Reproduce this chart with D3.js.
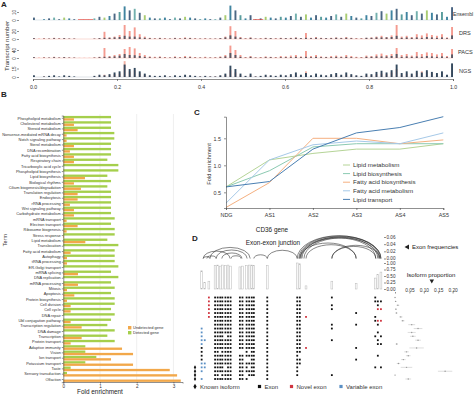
<!DOCTYPE html>
<html>
<head>
<meta charset="utf-8">
<script src="https://cdn.jsdelivr.net/npm/d3@7"></script>
<style>
  body { margin: 0; background: #fff; }
  svg { display: block; font-family: "Liberation Sans", Arial, sans-serif; }
  .axis text { fill: #333; }
  .axis path, .axis line { stroke: #444; stroke-width: 0.6; }
</style>
</head>
<body>
<svg id="fig" width="474" height="395"></svg>
<script>
// ---------- panel A : transcript number along the genome ----------
const ensembl = [3,0,1,2,3,1,3,2,1,0, 0,0,2,4,3,5,8,10,17,12, 14,9,6,3,2,2,3,1,3,2,
  4,3,2,1,2,1,1,3,6,18, 12,6,2,6,1,2,4,3,2,4, 3,5,8,4,7,3,6,4,3,5,
  7,4,8,5,3,2,6,5,9,11, 8,12,14,7,10,6,11,8,12,9, 7,10,4,16]
const ensemblRed = [0,0,0,0,0,0,0,0,0,0.8, 0.8,0.8,0,0,0,0,0,0,0,0, 0,0,0,0,0,0,0,0,0,0,
  0,0,0,0,0,0,0,0,0,0, 0,0,0,0,0.8,0.8,0,0,0,0, 0,0,0,0,0,0,0,0,0,0,
  0,0,0,0,0,0,0,0,0,0, 0,0,0,0,0,0,0,0,0,0, 0,0,0,0]
const drsRed = [2,1,2,1,3,2,2,1,1,0, 0,0,1,2,18,4,6,10,35,20, 29,12,6,3,2,3,2,1,3,2,
  4,3,2,1,2,1,1,2,6,32, 20,5,2,4,1,2,3,2,2,3, 2,3,4,2,15,3,5,3,2,3,
  4,3,5,3,2,2,3,4,6,8, 5,9,35,6,8,5,12,9,14,10, 8,12,4,30]
const drsDark = [2,0,1,1,2,1,2,1,1,0, 0,0,1,2,3,3,4,5,8,6, 6,4,3,2,1,2,1,1,2,1,
  2,2,1,1,1,1,1,2,4,9, 6,3,1,3,1,1,2,2,1,2, 2,2,3,2,3,2,3,2,2,2,
  3,2,3,2,1,1,3,3,4,4, 4,5,8,3,4,3,4,3,5,4, 3,4,2,9]
const pacsRed = [3,2,4,2,6,3,5,3,2,1, 1,1,3,6,50,10,15,20,45,55, 48,25,15,8,6,8,5,3,8,5,
  10,8,5,3,6,3,4,8,15,62, 40,15,5,10,3,5,8,6,5,10, 8,12,15,8,35,10,15,8,6,10,
  12,8,15,10,6,5,12,10,18,22, 15,20,50,15,20,12,30,20,28,25, 18,25,10,45]
const pacsDark = [4,0,2,2,4,2,4,2,2,0, 0,0,2,4,6,6,8,12,20,15, 14,10,6,4,2,4,2,2,4,2,
  4,4,2,2,2,2,2,4,8,25, 15,6,2,6,2,2,4,4,2,4, 4,4,6,4,6,4,6,4,4,4,
  6,4,6,4,2,2,6,6,8,8, 8,10,20,6,8,6,8,6,10,8, 6,8,4,18]
const ngsRed = [1,0,1,1,1,0,1,1,0,0, 0,0,1,2,4,3,5,6,28,10, 12,6,4,2,1,1,2,1,2,1,
  2,2,1,1,1,1,1,2,4,12, 8,3,1,3,1,1,2,2,1,2, 2,3,4,2,10,2,3,2,2,3,
  4,2,4,3,2,1,3,3,5,6, 5,8,14,4,6,4,8,10,9,7, 5,8,2,12]
const ngsDark = [3,0,1,2,3,1,3,2,1,0, 0,0,2,4,3,5,8,10,22,14, 16,10,6,3,2,2,3,1,3,2,
  4,3,2,1,2,1,1,3,6,20, 14,6,2,6,1,2,4,3,2,4, 3,5,8,4,7,3,6,4,3,5,
  7,4,8,5,3,2,6,5,9,11, 8,12,22,7,10,6,11,8,12,9, 7,10,4,24]
const genomeTicks = [0, 0.2, 0.4, 0.6, 0.8, 1.0]

// ---------- panel B : fold enrichment of terms ----------
const terms = ['Phospholipid metabolism','Cholesterol metabolism','Steroid metabolism',
  'Nonsense-mediated mRNA decay','Notch signaling pathway','Sterol metabolism','DNA recombination',
  'Fatty acid biosynthesis','Respiratory chain','Tricarboxylic acid cycle','Phospholipid biosynthesis',
  'Lipid biosynthesis','Biological rhythms','Cilium biogenesis/degradation','Translation regulation',
  'Endocytosis','rRNA processing','Wnt signaling pathway','Carbohydrate metabolism','mRNA transport',
  'Electron transport','Ribosome biogenesis','Stress response','Lipid metabolism','Translocation',
  'Fatty acid metabolism','Autophagy','tRNA processing','ER-Golgi transport','mRNA splicing',
  'DNA replication','mRNA processing','Mitosis','Apoptosis','Protein biosynthesis','Cell division',
  'Cell cycle','DNA repair','Ubl conjugation pathway','Transcription regulation','DNA damage',
  'Transcription','Protein transport','Adaptive immunity','Vision','Ion transport',
  'Potassium transport','Taste','Sensory transduction','Olfaction']
const detected = [1.3,1.3,1.3,1.39,1.39,1.3,1.3,1.3,1.2,1.5, 1.5,1.2,1.3,1.2,1.3,1.3,1.3,1.3,1.3,1.4,
  1.3,1.4,1.4,1.2,1.5,1.4,1.4,1.4,1.5,1.3, 1.5,1.3,1.4,1.3,1.4,1.4,1.3,1.4,1.3,1.2,
  1.4,1.2,1.4,0.6,0.6,0.9,0.6,0.2,0.1,0.0]
const undetected = [0.29,0.29,0.39,0.09,0.09,0.29,0.18,0.29,0.29,0.0, 0.0,0.59,0.29,0.48,0.39,0.39,0.18,0.29,0.29,0.09,
  0.39,0.09,0.02,0.6,0.0,0.2,0.1,0.1,0.0,0.4, 0.0,0.4,0.1,0.3,0.1,0.2,0.2,0.0,0.2,0.5,
  0.0,0.5,0.2,1.6,1.9,1.3,1.9,2.9,3.1,3.2]
const foldTicks = [0, 1, 2, 3]

// ---------- panel C : enrichment across stages ----------
const stages = ['NDG','AS1','AS2','AS3','AS4','AS5']
const lipidMetabolism = [0.6, 1.1, 1.22, 1.3, 1.3, 1.4]
const lipidBiosynthesis = [0.6, 0.9, 1.34, 1.4, 1.4, 1.4]
const fattyAcidBiosynthesis = [0.22, 0.68, 1.5, 1.5, 1.4, 1.47]
const fattyAcidMetabolism = [0.3, 1.1, 1.38, 1.45, 1.4, 1.6]
const lipidTransport = [0.6, 0.7, 1.3, 1.6, 1.7, 1.9]
const enrichTicks = [0.5, 1.0, 1.5]

// ---------- panel D : CD36 isoforms ----------
// exon positions (kb along the gene) and exon frequencies
const exonPos = [0.9,1.5,2.3,3.5,4.0,4.5,4.9,5.5,6.0,6.5,8.3,8.8,9.6,10.1,10.6,11.0,13.6,19.4,19.9,21.1,26.1,30.8,34.5,35.0,35.6]
const exonFreq = [0.7,0.25,0.3,0.9,0.92,0.88,0.92,0.9,0.92,0.88,0.85,0.88,0.9,0.92,0.92,0.9,0.9,1.0,0.97,0.12,0.3,0.22,0.42,0.55,0.65]
const junctions = [[1.2,2.5],[1.9,3.7],[1.2,6.4],[2.5,10.3],[3.7,9.7],[4.8,8.7],[6.6,8.5],[11.0,13.6],[13.6,19.4],
  [19.4,35.4],[19.7,35.6],[19.9,35.0],[20.1,34.6],[20.3,35.6],[20.7,35.2],[19.9,30.8],[26.1,35.4],[21.1,30.8],[26.1,34.6]]
const freqTicks = [0, 0.02, 0.04, 0.06]
const barTicks = [0, 0.25, 0.5, 0.75, 1]
// x = exon, n = novel exon, v = variable exon
const isoforms = [
  '..n xxxxxxx xx xxxx x xx. x . x..',
  '..n xxxxxxx xx xxxx x xx. . . xxx',
  '..n xxxxxxx xx xxxx x xx. x . .x.',
  '..n xxxxxxx xx xxxx x xx. x . .nn',
  '..n xxxxxxx xx xxxx x xx. . x ...',
  '..n xxxxxxx xx xxxx x xxn . . x..',
  '... xxxxxxx xx xxxx x xx. . . xnn',
  '... xxxxxxx xx xxxx x xx. x x .x.',
  'v.. xxxxxxx xx xxxx x xx. x . ...',
  'v.. xxxxxxx xx xxxx x xx. . . .x.',
  'v.. xxxx.xx xx xxxx x xx. . . x.x',
  'vv. xxxxxxx xx xxxx x xx. x . .x.',
  'v.. xxxxxxx xx xxxx x xx. . . .xx',
  'x.. xxxxxxx xx xxxx x xxn . x ...',
  'x.. xx.xxxx .. x.xx x xx. . . ...',
  'x.. xxxxxxx xx xxxx x x.. . . .x.',
  'x.. xxxxxxx xx ..xx x xx. . x ...',
  'vv. xxxxxxx xx xxxx x xx. . . ...',
  'vv. xxxx.xx xx x.xx x x.. . . x.x',
  'v.. xxxxxxx xx xxxx x x.. . . ...',
  '... xx.xxxx xx .xxx x x.. x . ...',
  'v.. xxxxxxx xx x... x ... . . ...'
]
const knownIsoform = [0,0,0,0,0,0,0,0,0,0,0,0,0,0,0,0,0,0,1,1,1,1]
const isoProp = [0.0,0.002,0.01,0.003,0.005,0.02,0.027,0.058,0.08,0.058,0.062,0.08,0.006,0.075,0.04,0.046,0.029,0.012,0.04,0.174,0.0,0.046]
const isoErr = [0.003,0.003,0.005,0.004,0.004,0.006,0.006,0.012,0.015,0.014,0.01,0.01,0.004,0.025,0.008,0.008,0.008,0.006,0.02,0.025,0.002,0.01]
const propTicks = [0, 0.05, 0.1, 0.15, 0.2]

const $svg = d3.select('#fig')
$svg.append('rect').attr('width', 474).attr('height', 395).attr('fill', '#fff')

function panelLetter(txt, x, y){
  $svg.append('text').text(txt).attr('x', x).attr('y', y)
    .attr('font-size', 8).attr('font-weight', 'bold').attr('fill', '#222')
}

function drawA(){
  const $g = $svg.append('g')
  panelLetter('A', 1, 7)
  const xBin = d3.scaleBand().domain(d3.range(ensembl.length)).range([33, 453]).paddingInner(0.62)
  const xStep = d3.scaleBand().domain(d3.range(ensembl.length)).range([33, 453])
  const ensPalette = ['#2d4e6e', '#3d8c8c', '#1f6f8f', '#27476b', '#5aa2a0', '#2d4e6e', '#9bc35a', '#1f6f8f']
  const tracks = [
    {name: 'Ensembl', back: ensembl, front: ensemblRed, max: 20, tick: 10, base: 20, top: 4, backColor: (d, i) => ensPalette[i % ensPalette.length], frontColor: '#e8453c', frontFull: true, labelX: 453, base2: '#c9d6dd'},
    {name: 'DRS', back: drsRed, front: drsDark, max: 40, tick: 20, base: 39, top: 23, backColor: () => '#f2897c', frontColor: '#5a5a66', labelX: 459, base2: '#f6c2bb'},
    {name: 'PACS', back: pacsRed, front: pacsDark, max: 85, tick: 40, base: 58, top: 41, backColor: () => '#f2897c', frontColor: '#5a5a66', labelX: 458, base2: '#f6c2bb'},
    {name: 'NGS', back: ngsRed, front: ngsDark, max: 30, tick: 15, base: 77, top: 60, backColor: () => '#f0a595', frontColor: '#34495e', labelX: 459, base2: '#c9d0d8'}
  ]
  tracks.forEach(t => {
    const y = d3.scaleLinear().domain([0, t.max]).range([t.base, t.top])
    $g.append('line').attr('x1', 33).attr('x2', 453).attr('y1', t.base).attr('y2', t.base)
      .attr('stroke', t.base2).attr('stroke-width', 0.6)
    $g.append('g').selectAll('rect').data(t.back).join('rect')
      .attr('x', (d, i) => xBin(i)).attr('width', xBin.bandwidth())
      .attr('y', d => y(d)).attr('height', d => t.base - y(d))
      .attr('fill', t.backColor).attr('opacity', 0.85)
    $g.append('g').selectAll('rect').data(t.front).join('rect')
      .attr('x', (d, i) => t.frontFull ? xStep(i) : xBin(i))
      .attr('width', t.frontFull ? xStep.bandwidth() + 0.2 : xBin.bandwidth())
      .attr('y', d => y(d)).attr('height', d => t.base - y(d))
      .attr('fill', t.frontColor)
    $g.append('g').attr('class', 'axis').attr('transform', 'translate(19,0)')
      .call(d3.axisLeft(y).tickValues([0, t.tick]).tickSize(2).tickFormat(d3.format('d')))
      .call(a => a.select('.domain').remove())
      .call(a => a.selectAll('text').attr('x', null).attr('dy', null).attr('font-size', 4.6)
        .attr('text-anchor', 'middle').attr('transform', 'translate(-3.5,0) rotate(-90)'))
    $g.append('text').text(t.name).attr('x', t.labelX).attr('y', t.base - 4)
      .attr('font-size', t.name === 'Ensembl' ? 5.2 : 5.6).attr('fill', '#333')
  })
  const x = d3.scaleLinear().domain([0, 1]).range([33, 453])
  $g.append('g').attr('class', 'axis').attr('transform', 'translate(0,79)')
    .call(d3.axisBottom(x).tickValues(genomeTicks).tickSize(2).tickFormat(d3.format('.1f')))
    .call(a => a.selectAll('text').attr('font-size', 5.2).attr('dy', '0.9em'))
  $g.append('text').text('Transcript number').attr('transform', 'translate(9,46) rotate(-90)')
    .attr('text-anchor', 'middle').attr('font-size', 6.2).attr('fill', '#333')
}

function drawB(){
  const $g = $svg.append('g')
  panelLetter('B', 1, 97)
  const y = d3.scaleBand().domain(terms).range([115.6, 382.2]).paddingInner(0.12).paddingOuter(0.06)
  const sub = d3.scaleBand().domain(['Detected gene', 'Undetected gene']).range([0, y.bandwidth()])
  const x = d3.scaleLinear().domain([0, 3.25]).range([63.3, 182.6])
  $g.append('g').selectAll('line').data([1, 2, 3]).join('line')
    .attr('x1', d => x(d)).attr('x2', d => x(d)).attr('y1', 114).attr('y2', 382)
    .attr('stroke', '#e4e4e4').attr('stroke-width', 0.6)
  const rows = terms.map((t, i) => ({term: t, det: detected[i], und: undetected[i]}))
  $g.append('g').selectAll('rect').data(rows).join('rect')
    .attr('x', x(0)).attr('y', d => y(d.term) + sub('Detected gene'))
    .attr('width', d => x(d.det) - x(0)).attr('height', sub.bandwidth())
    .attr('fill', '#a5cf4c')
  $g.append('g').selectAll('rect').data(rows).join('rect')
    .attr('x', x(0)).attr('y', d => y(d.term) + sub('Undetected gene'))
    .attr('width', d => x(d.und) - x(0)).attr('height', sub.bandwidth())
    .attr('fill', '#f2a84a')
  $g.append('g').attr('class', 'axis').attr('transform', `translate(${x(0)},0)`)
    .call(d3.axisLeft(y).tickSize(1.5).tickPadding(1))
    .call(a => a.selectAll('text').attr('font-size', 3.9))
  $g.append('g').attr('class', 'axis').attr('transform', 'translate(0,382)')
    .call(d3.axisBottom(x).tickValues(foldTicks).tickSize(1.5).tickPadding(1.5).tickFormat(d3.format('d')))
    .call(a => a.selectAll('text').attr('font-size', 4.6))
  $g.append('text').text('Fold enrichment').attr('x', 100).attr('y', 394)
    .attr('text-anchor', 'middle').attr('font-size', 6.4).attr('fill', '#222')
  $g.append('text').text('Term').attr('transform', 'translate(7,240) rotate(-90)')
    .attr('text-anchor', 'middle').attr('font-size', 5.6).attr('fill', '#333')
  const legend = [['Undetected gene', '#f2a84a'], ['Detected gene', '#a5cf4c']]
  const $l = $g.append('g').selectAll('g').data(legend).join('g')
    .attr('transform', (d, i) => `translate(128,${326 + i * 5})`)
  $l.append('rect').attr('width', 3.4).attr('height', 3.4).attr('fill', d => d[1])
  $l.append('text').text(d => d[0]).attr('x', 5).attr('y', 3).attr('font-size', 4).attr('fill', '#333')
}

function drawC(){
  const $g = $svg.append('g')
  panelLetter('C', 194, 115)
  const x = d3.scalePoint().domain(stages).range([226, 443.3])
  const y = d3.scaleLinear().domain([0.21, 1.9]).range([208, 116.7])
  const series = [
    ['Lipid metabolism', lipidMetabolism, '#b5d497'],
    ['Lipid biosynthesis', lipidBiosynthesis, '#8ccab2'],
    ['Fatty acid biosynthesis', fattyAcidBiosynthesis, '#f5b080'],
    ['Fatty acid metabolism', fattyAcidMetabolism, '#a6c9e8'],
    ['Lipid transport', lipidTransport, '#4a7fb2']
  ]
  const line = d3.line().x((d, i) => x(stages[i])).y(d => y(d))
  $g.append('g').selectAll('path').data(series).join('path')
    .attr('d', d => line(d[1])).attr('fill', 'none').attr('stroke', d => d[2]).attr('stroke-width', 1)
  $g.append('g').attr('class', 'axis').attr('transform', 'translate(226,0)')
    .call(d3.axisLeft(y).tickValues(enrichTicks).tickSize(2).tickFormat(d3.format('.1f')))
    .call(a => a.selectAll('text').attr('font-size', 5.4))
  $g.append('g').attr('class', 'axis').attr('transform', 'translate(0,208)')
    .call(d3.axisBottom(x).tickSize(2))
    .call(a => a.selectAll('text').attr('font-size', 5.4))
  $g.append('text').text('Fold enrichment').attr('transform', 'translate(211,164) rotate(-90)')
    .attr('text-anchor', 'middle').attr('font-size', 5.8).attr('fill', '#333')
  const $l = $g.append('g').selectAll('g').data(series).join('g')
    .attr('transform', (d, i) => `translate(343,${165 + i * 8.6})`)
  $l.append('line').attr('x1', 0).attr('x2', 7).attr('stroke', d => d[2]).attr('stroke-width', 1)
  $l.append('text').text(d => d[0]).attr('x', 10).attr('y', 2.2).attr('font-size', 6.2).attr('fill', '#333')
}

function drawD(){
  const $g = $svg.append('g')
  panelLetter('D', 192, 241)
  $g.append('text').text('CD36 gene').attr('x', 272).attr('y', 232)
    .attr('text-anchor', 'middle').attr('font-size', 6.4).attr('fill', '#222')
  $g.append('text').text('Exon-exon junction').attr('x', 273).attr('y', 245)
    .attr('text-anchor', 'middle').attr('font-size', 6.4).attr('fill', '#222')
  const x = d3.scaleLinear().domain([0, 36]).range([197, 383])
  const arcBase = 258.5
  // junction arcs
  $g.append('g').selectAll('path').data(junctions).join('path')
    .attr('d', d => {
      const x1 = x(d[0]), x2 = x(d[1]), rx = (x2 - x1) / 2, ry = rx * 0.55
      return `M${x1},${arcBase} A${rx},${ry} 0 0 1 ${x2},${arcBase}`
    })
    .attr('fill', 'none').attr('stroke', '#222').attr('stroke-width', 0.55)
  // exon frequency bars
  const yBar = d3.scaleLinear().domain([0, 1]).range([289, 263])
  $g.append('g').selectAll('rect').data(exonPos).join('rect')
    .attr('x', d => x(d) - 0.9).attr('width', 1.8)
    .attr('y', (d, i) => yBar(exonFreq[i])).attr('height', (d, i) => 289 - yBar(exonFreq[i]))
    .attr('fill', '#fff').attr('stroke', '#b8b8b8').attr('stroke-width', 0.5)
  const yFreq = d3.scaleLinear().domain([0, 0.06]).range([258.5, 237])
  $g.append('g').attr('class', 'axis').attr('transform', 'translate(384,0)')
    .call(d3.axisRight(yFreq).tickValues(freqTicks).tickSize(2).tickPadding(0.5).tickFormat(d3.format('.2f')))
    .call(a => a.select('.domain').remove())
    .call(a => a.selectAll('text').attr('font-size', 4.6))
  $g.append('g').attr('class', 'axis').attr('transform', 'translate(384,0)')
    .call(d3.axisRight(yBar).tickValues(barTicks).tickSize(2).tickPadding(0.5).tickFormat(d3.format('.2f')))
    .call(a => a.select('.domain').remove())
    .call(a => a.selectAll('text').attr('font-size', 4.6))
  // isoform matrix
  const y = d3.scalePoint().domain(d3.range(isoforms.length)).range([297.5, 379])
  const colors = {x: '#111', n: '#d0343f', v: '#5a8fc4'}
  const cells = []
  isoforms.forEach((row, r) => {
    row.replace(/ /g, '').split('').forEach((c, k) => {
      if (c !== '.') cells.push({r, k, c})
    })
  })
  $g.append('g').selectAll('rect').data(cells).join('rect')
    .attr('x', d => x(exonPos[d.k]) - 0.9).attr('y', d => y(d.r) - 0.9)
    .attr('width', 1.8).attr('height', 1.8).attr('fill', d => colors[d.c])
  const diamond = d3.symbol(d3.symbolDiamond, 5)
  $g.append('g').selectAll('path').data(knownIsoform.map((k, r) => ({k, r})).filter(d => d.k)).join('path')
    .attr('d', diamond).attr('transform', d => `translate(195,${y(d.r)})`).attr('fill', '#111')
  // isoform proportions
  const xp = d3.scaleLinear().domain([0, 0.2]).range([395, 452.6])
  const props = isoProp.map((p, r) => ({p, e: isoErr[r], r}))
  $g.append('g').selectAll('line').data(props).join('line')
    .attr('x1', d => xp(Math.max(0, d.p - d.e))).attr('x2', d => xp(d.p + d.e))
    .attr('y1', d => y(d.r)).attr('y2', d => y(d.r))
    .attr('stroke', '#bbb').attr('stroke-width', 0.5)
  $g.append('g').selectAll('circle').data(props).join('circle')
    .attr('cx', d => xp(d.p)).attr('cy', d => y(d.r)).attr('r', 0.7).attr('fill', '#999')
  // the 0.00 of this axis is shared with the exon-bar axis label just left of it
  $g.append('g').attr('class', 'axis').attr('transform', 'translate(0,293.5)')
    .call(d3.axisTop(xp).tickValues(propTicks).tickSize(1.5).tickPadding(0.5)
      .tickFormat(d => d === 0 ? '' : d3.format('.2f')(d)))
    .call(a => a.select('.domain').remove())
    .call(a => a.selectAll('text').attr('font-size', 4.8))
  // annotations
  $g.append('path').attr('d', 'M404.5,247 L409,244.6 L409,249.4 Z').attr('fill', '#222')
  $g.append('text').text('Exon frequencies').attr('x', 412).attr('y', 249)
    .attr('font-size', 6).attr('fill', '#222')
  $g.append('text').text('Isoform proportion').attr('x', 431).attr('y', 276.5)
    .attr('text-anchor', 'middle').attr('font-size', 6).attr('fill', '#222')
  $g.append('path').attr('d', 'M429.5,279.5 L434,279.5 L431.75,283.5 Z').attr('fill', '#222')
  // legend
  const legend = [['Known isoform', '#111', 195, true], ['Exon', '#111', 259.5], ['Novel exon', '#d0343f', 291.5], ['Variable exon', '#5a8fc4', 341]]
  const $l = $g.append('g').selectAll('g').data(legend).join('g')
    .attr('transform', d => `translate(${d[2]},386.5)`)
  $l.filter(d => d[3]).append('path').attr('d', d3.symbol(d3.symbolDiamond, 9)).attr('fill', '#111')
  $l.filter(d => !d[3]).append('rect').attr('x', -1.6).attr('y', -1.6).attr('width', 3.2).attr('height', 3.2)
    .attr('fill', d => d[1])
  $l.append('text').text(d => d[0]).attr('x', 5).attr('y', 2.1).attr('font-size', 6).attr('fill', '#333')
}

drawA()
drawB()
drawC()
drawD()
</script>
</body>
</html>
